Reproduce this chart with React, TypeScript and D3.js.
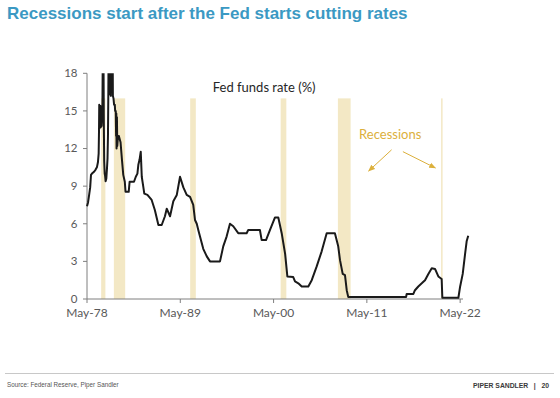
import React from "react";
import * as d3 from "d3";

// Fed funds rate (%)
const rateDates = [
  "1978-05-01","1978-06-15","1978-08-01","1978-09-15","1978-10-20","1978-12-01","1979-03-01","1979-05-01",
  "1979-07-01","1979-08-15","1979-09-15","1979-10-01","1979-10-10","1979-10-20","1979-11-01","1979-11-15",
  "1979-12-01","1979-12-15","1980-01-05","1980-01-20","1980-02-10","1980-02-25","1980-03-10","1980-03-25",
  "1980-04-10","1980-04-25","1980-05-10","1980-06-01","1980-06-20","1980-07-10","1980-08-10","1980-09-10",
  "1980-10-01","1980-10-20","1980-11-05","1980-11-15","1980-11-25","1980-12-05","1980-12-20","1981-01-05",
  "1981-01-20","1981-02-05","1981-02-20","1981-03-10","1981-05-10","1981-05-20","1981-06-15","1981-07-10",
  "1981-08-10","1981-08-25","1981-09-20","1981-10-05","1981-10-15","1981-10-25","1981-11-10","1981-11-25",
  "1981-12-15","1982-02-01","1982-04-15","1982-06-15","1982-08-10","1982-10-15","1982-11-15","1983-04-01",
  "1983-05-10","1983-11-15","1984-02-01","1984-04-10","1984-05-20","1984-07-10","1984-09-01","1984-10-15",
  "1984-12-20","1985-02-01","1985-06-15","1985-12-15","1986-05-01","1986-10-01","1987-02-20","1987-07-10",
  "1987-09-25","1988-02-15","1988-07-05","1988-12-01","1989-04-20","1989-09-10","1990-02-01","1990-06-25",
  "1990-11-10","1991-01-25","1991-04-10","1991-06-15","1992-01-15","1992-06-15","1992-11-01","1994-01-05",
  "1994-05-25","1994-10-20","1995-03-10","1995-07-30","1996-03-01","1997-02-25","1997-05-05","1998-09-20",
  "1998-12-05","1999-06-10","1999-11-25","2000-07-01","2000-11-20","2001-04-15","2001-09-10","2001-12-15",
  "2002-08-25","2002-11-10","2003-04-01","2003-08-25","2004-06-05","2004-10-30","2005-06-01","2006-01-01",
  "2006-08-05","2007-07-25","2007-12-15","2008-03-01","2008-06-25","2008-10-01","2008-12-15","2009-02-20",
  "2015-12-15","2016-01-10","2016-10-25","2017-01-01","2017-05-25","2017-10-20","2018-03-10","2018-08-01",
  "2018-12-25","2019-05-15","2019-10-05","2020-02-25","2020-03-25","2022-02-15","2022-05-01","2022-08-20",
  "2022-11-30","2023-02-05","2023-04-15",
];
const rateValues = [
  7.4, 7.7, 8.3, 8.9, 9.9, 10.0, 10.15, 10.3,
  10.5, 10.9, 11.6, 13.5, 15.5, 13.6, 15.3, 13.8,
  15.4, 13.7, 14.8, 13.8, 14.5, 15.5, 19.5, 16.5,
  19.5, 14.0, 11.0, 10.0, 9.8, 9.4, 9.6, 10.5,
  11.2, 13.0, 16.5, 19.5, 16.5, 20.0, 16.4, 19.5,
  16.3, 17.0, 16.2, 20.0, 20.0, 16.2, 16.0, 15.5,
  15.5, 15.0, 15.0, 13.0, 14.8, 12.0, 14.5, 12.2,
  12.7, 13.0, 12.5, 11.1, 9.9, 9.35, 8.55, 8.55,
  9.35, 9.35, 9.75, 10.0, 10.7, 11.1, 11.75, 9.75,
  8.95, 8.4, 8.3, 7.9, 7.1, 5.9, 5.9, 6.6,
  7.2, 6.6, 7.8, 8.3, 9.75, 8.9, 8.3, 8.15,
  7.5, 6.3, 6.0, 5.5, 4.0, 3.4, 3.0, 3.0,
  4.2, 5.0, 6.0, 5.8, 5.25, 5.25, 5.5, 5.5,
  4.7, 4.7, 5.5, 6.5, 6.5, 5.25, 3.6, 1.8,
  1.75, 1.4, 1.25, 1.0, 1.0, 1.5, 2.6, 3.8,
  5.25, 5.25, 4.2, 3.1, 2.0, 1.9, 0.7, 0.15,
  0.15, 0.4, 0.4, 0.7, 1.0, 1.25, 1.5, 2.0,
  2.45, 2.4, 1.8, 1.6, 0.1, 0.1, 1.0, 2.0,
  3.6, 4.6, 5.05,
];

const recessionStarts = ["1980-01-01","1981-07-01","1990-07-01","2001-03-01","2007-12-01","2020-02-01"];
const recessionEnds   = ["1980-07-01","1982-11-01","1991-03-01","2001-11-01","2009-06-01","2020-04-01"];
const recessionTop = 16;

const yTicks = [0, 3, 6, 9, 12, 15, 18];
const xTickDates = ["1978-05-01","1989-05-01","2000-05-01","2011-05-01","2022-05-01"];
const xTickLabels = ["May-78","May-89","May-00","May-11","May-22"];

const parse = d3.timeParse("%Y-%m-%d");

export default function App() {
  const W = 560, H = 398;
  const x = d3.scaleTime()
    .domain([parse("1978-05-01")!, parse("2022-09-01")!])
    .range([87, 463]);
  const y = d3.scaleLinear().domain([0, 18]).range([299, 73.3]);

  const data = rateDates.map((d, i) => ({ date: parse(d)!, v: rateValues[i] }));
  const line = d3.line<{ date: Date; v: number }>()
    .x(d => x(d.date))
    .y(d => y(d.v));

  const axisColor = "#7f7f7f";
  const labelColor = "#595959";
  const gold = "#dcb03c";
  const font = "Lato, 'Open Sans', sans-serif";

  // annotation anchors in data space
  const a1s: [Date, number] = [parse("2014-04-01")!, 11.9];
  const a1e: [Date, number] = [parse("2011-07-15")!, 10.2];
  const a2s: [Date, number] = [parse("2015-08-01")!, 11.75];
  const a2e: [Date, number] = [parse("2019-06-01")!, 10.45];

  return (
    <svg width={W} height={H} style={{ position: "fixed", left: 0, top: 0, background: "#fff" }}>
      <defs>
        <clipPath id="plotClip">
          <rect x={60} y={y(18)} width={480} height={y(0) - y(18) + 10} />
        </clipPath>
        <marker id="arrowHead" viewBox="0 0 10 10" refX="9" refY="5" markerWidth="7" markerHeight="7" orient="auto-start-reverse">
          <path d="M0,1 L10,5 L0,9 z" fill={gold} />
        </marker>
      </defs>
      <rect x={0} y={0} width={W} height={H} fill="#fff" />

      <text x={7} y={18.5} fontFamily="'Liberation Sans', Arial, sans-serif" fontWeight="bold" fontSize={17} fill="#3b99c3">
        Recessions start after the Fed starts cutting rates
      </text>

      {/* recession bands */}
      {recessionStarts.map((s, i) => {
        const x0 = x(parse(s)!);
        const x1 = x(parse(recessionEnds[i])!);
        return (
          <rect key={s} x={x0} y={y(recessionTop)} width={Math.max(1.5, x1 - x0)} height={y(0) - y(recessionTop)} fill="#f3e8c5" />
        );
      })}

      {/* y axis */}
      <line x1={87} x2={87} y1={y(18)} y2={y(0)} stroke={axisColor} strokeWidth={1} />
      {yTicks.map(t => (
        <g key={t}>
          <line x1={83} x2={87} y1={y(t)} y2={y(t)} stroke={axisColor} strokeWidth={1} />
          <text x={77.5} y={y(t)} dy="0.33em" textAnchor="end" fontFamily={font} fontSize={11.5} fill={labelColor}>{t}</text>
        </g>
      ))}

      {/* x axis */}
      <line x1={87} x2={463} y1={y(0)} y2={y(0)} stroke={axisColor} strokeWidth={1} />
      {xTickDates.map((d, i) => {
        const px = x(parse(d)!);
        return (
          <g key={d}>
            <line x1={px} x2={px} y1={y(0)} y2={y(0) + 4} stroke={axisColor} strokeWidth={1} />
            <text x={px} y={317} textAnchor="middle" fontFamily={font} fontSize={12} fill={labelColor}>{xTickLabels[i]}</text>
          </g>
        );
      })}

      {/* rate line */}
      <path d={line(data) ?? ""} fill="none" stroke="#1a1a1a" strokeWidth={2} strokeLinejoin="round" clipPath="url(#plotClip)" />

      {/* annotations */}
      <text x={x(parse("1993-03-01")!)} y={y(16.5)} fontFamily={font} fontSize={13} fill="#262626">Fed funds rate (%)</text>
      <text x={x(parse("2010-06-01")!)} y={y(12.75)} fontFamily={font} fontSize={13} fill={gold}>Recessions</text>
      <line x1={x(a1s[0])} y1={y(a1s[1])} x2={x(a1e[0])} y2={y(a1e[1])} stroke={gold} strokeWidth={1} markerEnd="url(#arrowHead)" />
      <line x1={x(a2s[0])} y1={y(a2s[1])} x2={x(a2e[0])} y2={y(a2e[1])} stroke={gold} strokeWidth={1} markerEnd="url(#arrowHead)" />

      {/* footer */}
      <line x1={5} x2={554} y1={373.5} y2={373.5} stroke="#c8c8c8" strokeWidth={1} />
      <text x={7} y={387} fontFamily="'Liberation Sans', Arial, sans-serif" fontSize={6.3} fill="#555">Source: Federal Reserve,  Piper Sandler</text>
      <text x={549} y={387.5} textAnchor="end" fontFamily="'Liberation Sans', Arial, sans-serif" fontWeight="bold" fontSize={6.8} fill="#3a3a3a" style={{ whiteSpace: "pre" }}>
        {"PIPER SANDLER   |   20"}
      </text>
    </svg>
  );
}
